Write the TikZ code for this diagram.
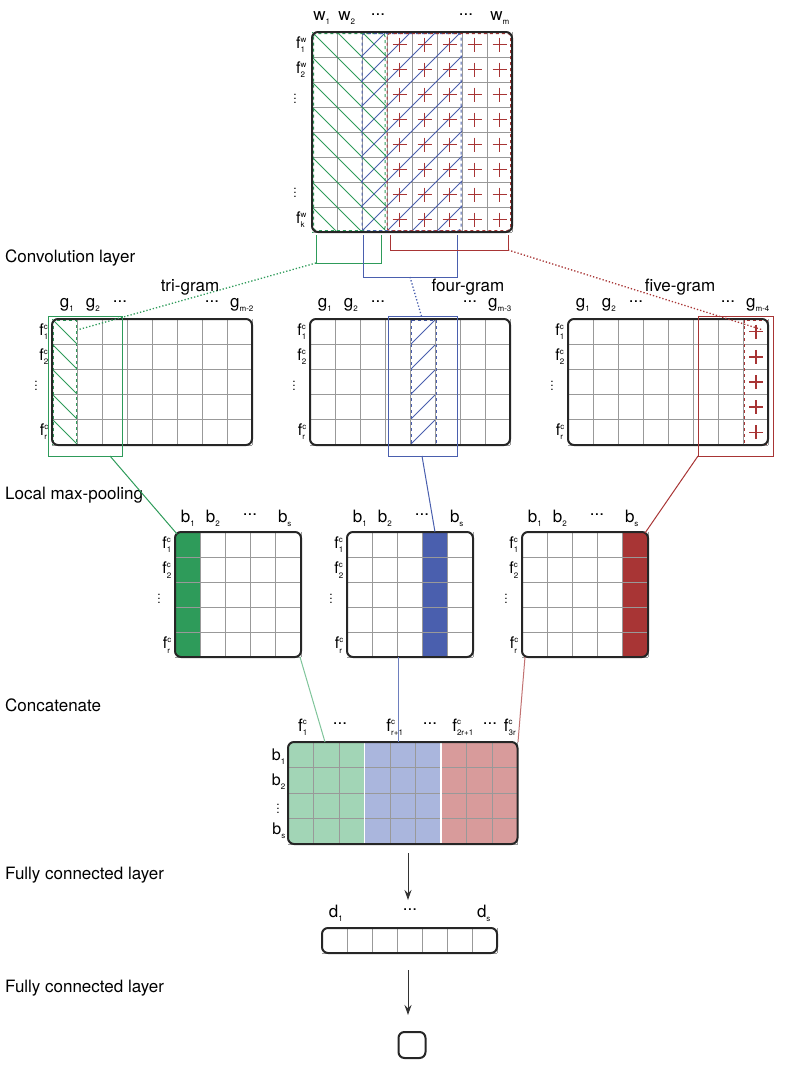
\documentclass[tikz,border=0pt]{standalone}
\usepackage{amsmath}
\usepackage{fontspec}
\usetikzlibrary{calc,arrows.meta}
\setmainfont{TeX Gyre Heros}
\definecolor{cg}{HTML}{2E9B5A}
\definecolor{cb}{HTML}{4A5FAE}
\definecolor{cr}{HTML}{A83535}
\definecolor{lg}{HTML}{A2D5B6}
\definecolor{lb}{HTML}{AAB6DD}
\definecolor{lr}{HTML}{D89B9B}
\newcommand\fs[3]{#1\ensuremath{^{\text{\footnotesize #2}}_{\text{\footnotesize #3}}}}
\newcommand\mapgrid[6]{%
 \foreach \i in {1,...,#3}{\draw[gridc] ({#1+\i*#5},#2) -- ++(0,{#4*#6});}
 \foreach \j in {1,...,#4}{\draw[gridc] (#1,{#2+\j*#6}) -- ++({#3*#5},0);}}
\newcommand\mapout[6]{\draw[outl] (#1,#2) rectangle ++({#3*#5},{#4*#6});}
\newcommand\plus[2]{\draw[draw=cr,line width=1.6pt] ({#1-7},#2) -- ({#1+7},#2) (#1,{#2-7}) -- (#1,{#2+7});}
\begin{document}
\begin{tikzpicture}[x=1pt,y=-1pt,
 gridc/.style={gray!80,line width=0.7pt},
 outl/.style={black!85,line width=2pt,rounded corners=6pt},
 sec/.style={anchor=west,font=\fontsize{17}{17}\selectfont,inner sep=0pt},
 lab/.style={font=\fontsize{17}{17}\selectfont,inner sep=0pt},
 flab/.style={font=\fontsize{16}{16}\selectfont,inner sep=0pt,anchor=east},
 vd/.style={font=\fontsize{12}{12}\selectfont,inner sep=0pt},
 dot/.style={dotted,line width=1.3pt},
 conn/.style={line width=1pt}]
\useasboundingbox (0,0) rectangle (790,1082);
% section labels
\node[sec] (s1) at (5,258) {Convolution layer};
\node[sec] (s2) at (5,495) {Local max-pooling};
\node[sec] (s3) at (5,705) {Concatenate};
\node[sec] (s4) at (5,875) {Fully connected layer};
\node[sec] (s5) at (5,988) {Fully connected layer};
% ---------- top matrix
\mapgrid{312}{32}{8}{8}{25}{25}
\begin{scope}\clip (312,32) rectangle (386,232);
 \foreach \k in {-8,...,8}{\draw[draw=cg,line width=0.9pt] (312,{32+\k*25}) -- ++(220,220);}
\end{scope}
\begin{scope}\clip (361,32) rectangle (462,232);
 \foreach \k in {0,...,16}{\draw[draw=cb,line width=0.9pt] (361,{32+\k*25}) -- ++(220,-220);}
\end{scope}
\foreach \cc in {4,...,8}{\foreach \rr in {1,...,8}{\plus{312+\cc*25-12.5}{32+\rr*25-12.5}}}
\draw[draw=cg,dashed,line width=1pt,rounded corners=3pt] (313.5,33.5) rectangle (385,230.5);
\draw[draw=cb,dashed,line width=1pt,rounded corners=3pt] (362,33.5) rectangle (461,230.5);
\draw[draw=cr,dashed,line width=1pt,rounded corners=3pt] (387,33.5) rectangle (510.5,230.5);
\mapout{312}{32}{8}{8}{25}{25}
\node[lab] (w1) at (322,18) {\fs{w}{}{1}};
\node[lab] (w2) at (347,18) {\fs{w}{}{2}};
\node[lab] (wd1) at (378,15) {...};
\node[lab] (wd2) at (466,15) {...};
\node[lab] (wm) at (500,18) {\fs{w}{}{m}};
\node[flab] (fw1) at (307,45) {\fs{f}{w}{1}};
\node[flab] (fw2) at (307,70) {\fs{f}{w}{2}};
\node[vd] (fwd1) at (295,96) {$\vdots$};
\node[vd] (fwd2) at (295,190) {$\vdots$};
\node[flab] (fwk) at (307,220) {\fs{f}{w}{k}};
% brackets
\coordinate (bg1) at (316,235); \coordinate (bg2) at (316,263); \coordinate (bg3) at (381,263); \coordinate (bg4) at (381,235);
\coordinate (bb1) at (363,235); \coordinate (bb2) at (363,277); \coordinate (bb3) at (457,277); \coordinate (bb4) at (457,235);
\coordinate (br1) at (390,235); \coordinate (br2) at (390,250); \coordinate (br3) at (508,250); \coordinate (br4) at (508,235);
\draw[draw=cg,conn] (bg1) -- (bg2) -- (bg3) -- (bg4);
\draw[draw=cb,conn] (bb1) -- (bb2) -- (bb3) -- (bb4);
\draw[draw=cr,conn] (br1) -- (br2) -- (br3) -- (br4);
% ---------- conv maps
\begin{scope}\clip (52,319) rectangle (77,445);
 \foreach \k in {-6,...,6}{\draw[draw=cg,line width=0.9pt] (52,{319+\k*25}) -- ++(150,150);}
\end{scope}
\begin{scope}\clip (411,319) rectangle (436,445);
 \foreach \k in {0,...,12}{\draw[draw=cb,line width=0.9pt] (411,{319+\k*25}) -- ++(150,-150);}
\end{scope}
\mapgrid{52}{319}{8}{5}{25}{25.2}
\mapgrid{310}{319}{8}{5}{25}{25.2}
\mapgrid{568}{319}{8}{5}{25}{25.2}
\foreach \rr in {1,...,5}{\plus{756}{319+\rr*25.2-12.6}}
\draw[draw=cg,dashed,line width=1pt] (53,320) rectangle (76.5,444);
\draw[draw=cb,dashed,line width=1pt] (411,320) rectangle (436,444);
\draw[draw=cr,dashed,line width=1pt] (744,320) rectangle (767,444);
\mapout{52}{319}{8}{5}{25}{25.2}
\mapout{310}{319}{8}{5}{25}{25.2}
\mapout{568}{319}{8}{5}{25}{25.2}
\draw[draw=cg,line width=1pt] (48,316) rectangle (122,456);
\draw[draw=cb,line width=1pt] (388,316) rectangle (457,456);
\draw[draw=cr,line width=1pt] (698,316) rectangle (773,456);
\coordinate (gt) at (77,330); \coordinate (bt) at (422,318); \coordinate (rt) at (763,330);
\coordinate (bm) at (410,277);
\draw[draw=cg,dot] (bg2) -- (gt);
\draw[draw=cb,dot] (bm) -- (bt);
\draw[draw=cr,dot] (br3) -- (rt);
\node[lab] (tri) at (190,287) {tri-gram};
\node[lab] (four) at (468,287) {four-gram};
\node[lab] (five) at (680,287) {five-gram};
\foreach \xo/\last/\nm in {52/{m-2}/a,310/{m-3}/b,568/{m-4}/c}{
 \node[lab] (g1\nm) at (\xo+15,305) {\fs{g}{}{1}};
 \node[lab] (g2\nm) at (\xo+41,305) {\fs{g}{}{2}};
 \node[lab] (gd1\nm) at (\xo+68,302) {...};
 \node[lab] (gd2\nm) at (\xo+160,302) {...};
 \node[lab] (gl\nm) at (\xo+190,305) {\fs{g}{}{\last}};
 \node[flab] (fa\nm) at (\xo-3,332) {\fs{f}{c}{1}};
 \node[flab] (fb\nm) at (\xo-3,357) {\fs{f}{c}{2}};
 \node[vd] (fc\nm) at (\xo-16,383) {$\vdots$};
 \node[flab] (fd\nm) at (\xo-3,432) {\fs{f}{c}{r}};
}
% ---------- pooling maps
\begin{scope}\clip[rounded corners=6pt] (175,532) rectangle ++(126,125); \fill[cg] (175,532) rectangle (200.2,657); \end{scope}
\begin{scope}\clip[rounded corners=6pt] (347,532) rectangle ++(126,125); \fill[cb] (422.6,532) rectangle (447.8,657); \end{scope}
\begin{scope}\clip[rounded corners=6pt] (522,532) rectangle ++(126,125); \fill[cr] (622.8,532) rectangle (648,657); \end{scope}
\mapgrid{175}{532}{5}{5}{25.2}{25}
\mapgrid{347}{532}{5}{5}{25.2}{25}
\mapgrid{522}{532}{5}{5}{25.2}{25}
\mapout{175}{532}{5}{5}{25.2}{25}
\mapout{347}{532}{5}{5}{25.2}{25}
\mapout{522}{532}{5}{5}{25.2}{25}
\foreach \xo/\nm in {175/a,347/b,522/c}{
 \node[lab] (b1\nm) at (\xo+13,518) {\fs{b}{}{1}};
 \node[lab] (b2\nm) at (\xo+38,518) {\fs{b}{}{2}};
 \node[lab] (bd\nm) at (\xo+75,515) {...};
 \node[lab] (bs\nm) at (\xo+110,518) {\fs{b}{}{s}};
 \node[flab] (pa\nm) at (\xo-3,545) {\fs{f}{c}{1}};
 \node[flab] (pb\nm) at (\xo-3,570) {\fs{f}{c}{2}};
 \node[vd] (pc\nm) at (\xo-16,596) {$\vdots$};
 \node[flab] (pd\nm) at (\xo-3,645) {\fs{f}{c}{r}};
}
\draw[draw=cg,conn] (110,456) -- (177,534);
\draw[draw=cb,conn] (422,456) -- (435,532);
\draw[draw=cr,conn] (698,456) -- (645,533);
% ---------- concat
\begin{scope}\clip[rounded corners=6pt] (288,742) rectangle (517.5,844);
 \fill[lg] (288,742) rectangle (364.5,844);
 \fill[lb] (364.5,742) rectangle (441,844);
 \fill[lr] (441,742) rectangle (517.5,844);
\end{scope}
\mapgrid{288}{742}{9}{4}{25.5}{25.5}
\draw[white,line width=1.2pt] (364.5,742) -- (364.5,844) (441,742) -- (441,844);
\mapout{288}{742}{9}{4}{25.5}{25.5}
\draw[draw=lg!70!cg,conn] (300,657) -- (325,742);
\draw[draw=cb!80,conn] (398,657) -- (398,742);
\draw[draw=cr!70,conn] (525,657) -- (518,742);
\node[lab] (cf1) at (303,727) {\fs{f}{c}{1}};
\node[lab] (cd1) at (340,724) {...};
\node[lab] (cf2) at (395,727) {\fs{f}{c}{r+1}};
\node[lab] (cd2) at (430,724) {...};
\node[lab] (cf3) at (463,727) {\fs{f}{c}{2r+1}};
\node[lab] (cd3) at (490,724) {...};
\node[lab] (cf4) at (510,727) {\fs{f}{c}{3r}};
\node[flab] (cb1) at (286,757) {\fs{b}{}{1}};
\node[flab] (cb2) at (286,782) {\fs{b}{}{2}};
\node[vd] (cb3) at (278,806) {$\vdots$};
\node[flab] (cb4) at (286,831) {\fs{b}{}{s}};
% ---------- FC
\coordinate (a1) at (408,853); \coordinate (a2) at (408,900);
\draw[-{Stealth[length=10pt,width=7pt]},line width=1pt,black!80] (a1) -- (a2);
\mapgrid{322}{928}{7}{1}{25}{25}
\mapout{322}{928}{7}{1}{25}{25}
\node[lab] (d1) at (336,913) {\fs{d}{}{1}};
\node[lab] (dd) at (410,910) {...};
\node[lab] (ds) at (484,913) {\fs{d}{}{s}};
\coordinate (a3) at (408,970); \coordinate (a4) at (408,1015);
\draw[-{Stealth[length=10pt,width=7pt]},line width=1pt,black!80] (a3) -- (a4);
\node[draw=black!85,line width=2pt,rounded corners=6pt,minimum width=27pt,minimum height=26pt] (out) at (412,1045) {};
\end{tikzpicture}
\end{document}
